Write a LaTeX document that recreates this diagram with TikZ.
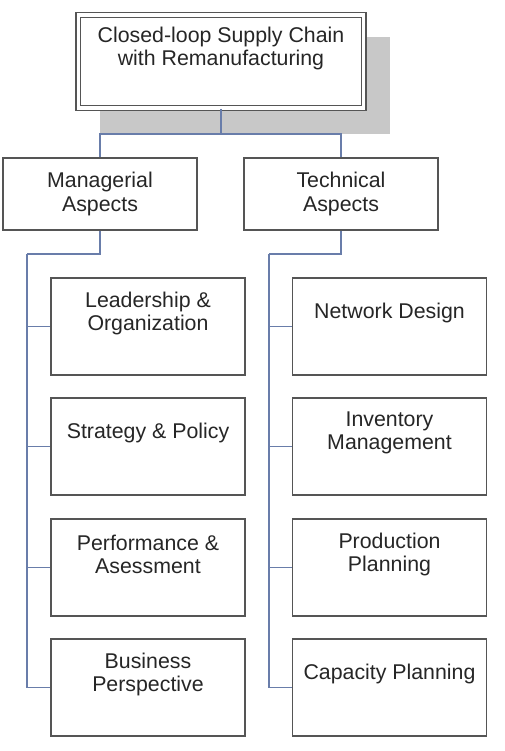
\documentclass[tikz,border=0pt]{standalone}
\usepackage{fontspec}
\setmainfont{Liberation Sans}
\usepackage{tikz}
\usetikzlibrary{positioning,calc}
\definecolor{Box_line}{RGB}{85, 85, 85}
\definecolor{Link_line}{RGB}{105, 125, 170}
\definecolor{Shadow_gray}{RGB}{200, 200, 200}
\tikzset{
    every node/.style={font=\fontsize{16}{17.5}\selectfont, text=black!85},
    topbox/.style={draw=Box_line, double=white, double distance=2.6pt, line width=0.9pt,
        fill=white, minimum width=214pt, minimum height=70pt, inner sep=0pt},
    aspectbox/.style={draw=Box_line, line width=1.1pt, fill=white,
        minimum width=145.5pt, minimum height=54pt, inner sep=0pt},
    childbox/.style={draw=Box_line, line width=1.1pt, fill=white,
        minimum width=145.5pt, minimum height=72.75pt, inner sep=0pt},
    boxtext/.style={align=center, inner sep=0pt, yshift=10pt},
    link/.style={draw=Link_line, line width=1.1pt}
}

\begin{document}
\begin{tikzpicture}[x=0.75pt, y=-0.75pt]
    \useasboundingbox (0,0) rectangle (505,751);

    %% Top box with shadow
    \fill[Shadow_gray] (100,37) rectangle (390,134);
    \node[topbox] (top) at (221,61.5) {};
    \node[boxtext] at (top.center) {Closed-loop Supply Chain\\with Remanufacturing};

    %% Aspects
    \node[aspectbox] (man) at (100,194) {};
    \node[align=center] at (man.center) {Managerial\\Aspects};
    \node[aspectbox] (tech) at (341,194) {};
    \node[align=center] at (tech.center) {Technical\\Aspects};

    \coordinate (split) at (221,134);
    \draw[link] (top.south) -- (split);
    \draw[link] (split) -| (man.north);
    \draw[link] (split) -| (tech.north);

    %% Managerial aspects
    \node[childbox] (lead) at (148,326.5) {};
    \node[boxtext] at (lead.center) {Leadership \&\\Organization};
    \node[childbox] (strat) at (148,446.5) {};
    \node[boxtext] at (strat.center) {Strategy \& Policy};
    \node[childbox] (perf) at (148,567.5) {};
    \node[boxtext] at (perf.center) {Performance \&\\Asessment};
    \node[childbox] (biz) at (148,687.5) {};
    \node[boxtext] at (biz.center) {Business\\Perspective};

    \coordinate (mspine) at (27,254);
    \draw[link] (man.south) |- (mspine);
    \draw[link] (mspine) |- (biz.west);
    \foreach \c in {lead,strat,perf}
        \draw[link] (mspine |- \c.west) -- (\c.west);

    %% Technical aspects
    \node[childbox] (net) at (389.5,326.5) {};
    \node[boxtext] at (net.center) {Network Design};
    \node[childbox] (inv) at (389.5,446.5) {};
    \node[boxtext] at (inv.center) {Inventory\\Management};
    \node[childbox] (prod) at (389.5,567.5) {};
    \node[boxtext] at (prod.center) {Production\\Planning};
    \node[childbox] (cap) at (389.5,687.5) {};
    \node[boxtext] at (cap.center) {Capacity Planning};

    \coordinate (tspine) at (269,254);
    \draw[link] (tech.south) |- (tspine);
    \draw[link] (tspine) |- (cap.west);
    \foreach \c in {net,inv,prod}
        \draw[link] (tspine |- \c.west) -- (\c.west);

\end{tikzpicture}
\end{document}
